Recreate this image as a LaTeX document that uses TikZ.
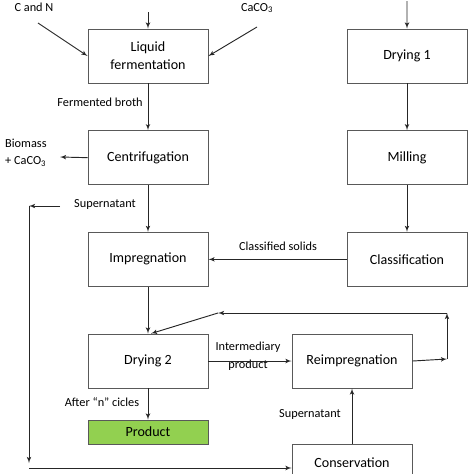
\documentclass[tikz,border=0pt]{standalone}
\usepackage{fontspec}
\setmainfont{Carlito}
\usetikzlibrary{shapes,arrows,calc}
\definecolor{boxgray}{RGB}{89,89,89}
\definecolor{prodgreen}{RGB}{146,208,80}
\tikzstyle{line} = [draw=black!85, thick, -latex']
\tikzstyle{block} = [draw=boxgray, thick, rectangle, text centered, align=center, minimum width=3.6cm, minimum height=1.62cm, font=\fontsize{12}{15.5}\selectfont]
\tikzstyle{goal} = [block, fill=prodgreen, minimum height=0.72cm]
\tikzstyle{lbl} = [align=center, inner sep=0pt, font=\fontsize{10.5}{14.5}\selectfont]

\begin{document}
\begin{tikzpicture}[x=0.03cm, y=0.03cm, node distance=3.05cm, auto]
        \clip (0,0) rectangle (474,-474);
        \useasboundingbox (0,0) rectangle (474,-474);
        % left column
        \node[block] (liquid) at (148,-56) {Liquid\\fermentation};
        \node[block, below of=liquid] (centrif) {Centrifugation};
        \node[block, below of=centrif] (impreg) {Impregnation};
        \node[block, below of=impreg] (drying2) {Drying 2};
        \node[goal, below of=drying2, node distance=2.13cm] (product) {Product};
        % right column
        \node[block, right of=liquid, node distance=7.77cm] (drying1) {Drying 1};
        \node[block, below of=drying1] (milling) {Milling};
        \node[block, below of=milling] (classif) {Classification};
        \node[block, right of=drying2, node distance=6.12cm] (reimp) {Reimpregnation};
        \node[block, below of=reimp, node distance=3.06cm, minimum height=1.14cm] (conserv) {Conservation};
        % labels
        \node[lbl] (cn) at (34,-7) {C and N};
        \node[lbl] (caco) at (257,-8) {CaCO\textsubscript{3}};
        \node[lbl] (broth) at (100,-102) {Fermented broth};
        \node[lbl, anchor=west, align=left] (biomass) at (5,-153) {Biomass\\+ CaCO\textsubscript{3}};
        \node[lbl] (super1) at (105,-204) {Supernatant};
        \node[lbl] (solids) at (278,-246) {Classified solids};
        \node[lbl, font=\fontsize{10.5}{15.5}\selectfont] (inter) at (248,-356) {Intermediary\\product};
        \node[lbl] (cycles) at (102,-402) {After “n” cicles};
        \node[lbl] (super2) at (310,-414) {Supernatant};
        % free ends
        \coordinate (topL) at (148,-12);
        \coordinate (topR) at (407,-1);
        \coordinate (cnA) at (38,-23);
        \coordinate (cacoA) at (257,-27);
        \coordinate (waste) at (60,-157);
        \coordinate (ret0) at (60,-206);
        \coordinate (ret1) at (29,-206);
        \coordinate (ret2) at (29,-463);
        \coordinate (ret3) at (29,-468);
        \coordinate (loop1) at (447,-359);
        \coordinate (loop2) at (447,-313);
        \coordinate (loop3) at (218,-313);
        % connectors
        \path[line] (topL) -- (liquid);
        \path[line] (topR) -- (drying1);
        \path[line] (cnA) -- (liquid.west);
        \path[line] (cacoA) -- (liquid.east);
        \path[line] (liquid) -- (centrif);
        \path[line] (centrif.west) -- (waste);
        \path[line] (centrif) -- (impreg);
        \path[line] (ret0) -- (ret1);
        \path[line] (ret1) -- (ret2);
        \path[line] (ret3) -- (ret3 -| conserv.west);
        \path[line] (drying1) -- (milling);
        \path[line] (milling) -- (classif);
        \path[line] (classif) -- (impreg);
        \path[line] (impreg) -- (drying2);
        \path[line] (drying2) -- (reimp);
        \path[line] (reimp.east) -- (loop1);
        \path[line] (loop1) -- (loop2);
        \path[line] (loop2) -- (loop3);
        \path[line] (loop3) -- ($(drying2.north)+(3,0)$);
        \path[line] (drying2) -- (product);
        \path[line] (conserv) -- (reimp);
    \end{tikzpicture}
\end{document}
